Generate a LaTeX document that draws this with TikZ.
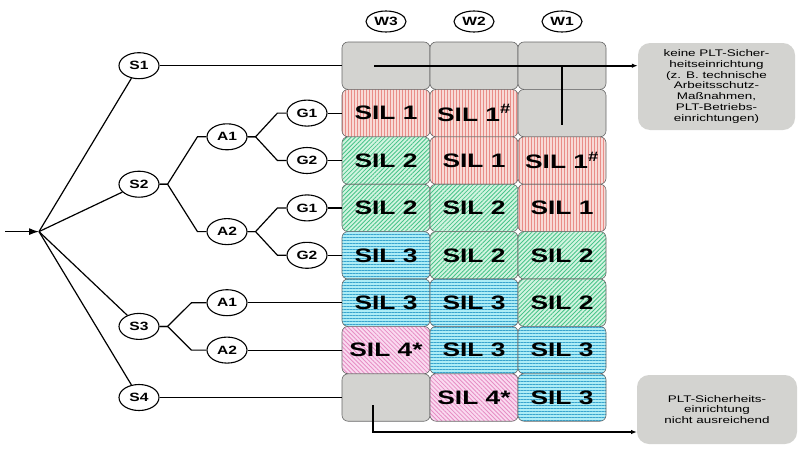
\documentclass[tikz,border=0pt]{standalone}
\usepackage{fontspec}
\setmainfont{Liberation Sans}
\newfontfamily\silfont[FakeStretch=1.35]{Liberation Sans}
\newfontfamily\lblfont[FakeStretch=1.3]{Liberation Sans}
\newfontfamily\boxfont[FakeStretch=1.4]{Liberation Sans}
\usetikzlibrary{shapes.geometric,arrows.meta,patterns.meta}
\definecolor{cellgray}{HTML}{D3D3D0}
\definecolor{sAbg}{HTML}{F8DAD6}
\definecolor{sAfg}{HTML}{E98D88}
\definecolor{sBbg}{HTML}{D2F4E0}
\definecolor{sBfg}{HTML}{48C48A}
\definecolor{sCbg}{HTML}{ADEDF6}
\definecolor{sCfg}{HTML}{38A4CE}
\definecolor{sDbg}{HTML}{FADAF0}
\definecolor{sDfg}{HTML}{E78EC4}
\tikzset{
  cell/.style={draw=black!60, line width=0.6pt, rounded corners=6pt,
    minimum width=88pt, minimum height=47.4pt, inner sep=0pt,
    font=\silfont\bfseries\fontsize{19.5}{20}\selectfont},
  grey/.style={cell, fill=cellgray},
  silA/.style={cell, preaction={fill=sAbg},
    pattern={Lines[angle=90,distance=3pt,line width=0.85pt]}, pattern color=sAfg},
  silB/.style={cell, preaction={fill=sBbg},
    pattern={Lines[angle=45,distance=3pt,line width=0.85pt]}, pattern color=sBfg},
  silC/.style={cell, preaction={fill=sCbg},
    pattern={Lines[angle=0,distance=3pt,line width=0.85pt]}, pattern color=sCfg},
  silD/.style={cell, preaction={fill=sDbg},
    pattern={Lines[angle=-45,distance=3pt,line width=0.85pt]}, pattern color=sDfg},
  tnode/.style={ellipse, draw=black, line width=1.1pt, fill=white,
    minimum width=40pt, minimum height=26pt, inner sep=0pt,
    font=\lblfont\bfseries\fontsize{12}{13}\selectfont},
  wnode/.style={tnode, minimum height=21pt},
  infobox/.style={fill=cellgray, rounded corners=12pt, inner sep=0pt, align=center,
    font=\boxfont\fontsize{9.6}{10.8}\selectfont},
  conn/.style={line width=1.2pt, black},
  bigarrow/.style={line width=1.6pt, black, -{Latex[length=6pt,width=4.5pt]}},
}
\begin{document}
\begin{tikzpicture}[x=1pt, y=-1pt]
\useasboundingbox (0,0) rectangle (800,450);

% column headers
\node[wnode] (W3) at (386,21.5) {W3};
\node[wnode] (W2) at (474,21.5) {W2};
\node[wnode] (W1) at (562,21.5) {W1};

% grid
\node[grey] (c00) at (386,65.7) {};
\node[grey] (c01) at (474,65.7) {};
\node[grey] (c02) at (562,65.7) {};
\node[silA] (c10) at (386,113.1) {SIL 1};
\node[silA] (c11) at (474,113.1) {SIL 1\textsuperscript{\#}};
\node[grey] (c12) at (562,113.1) {};
\node[silB] (c20) at (386,160.5) {SIL 2};
\node[silA] (c21) at (474,160.5) {SIL 1};
\node[silA] (c22) at (562,160.5) {SIL 1\textsuperscript{\#}};
\node[silB] (c30) at (386,207.9) {SIL 2};
\node[silB] (c31) at (474,207.9) {SIL 2};
\node[silA] (c32) at (562,207.9) {SIL 1};
\node[silC] (c40) at (386,255.3) {SIL 3};
\node[silB] (c41) at (474,255.3) {SIL 2};
\node[silB] (c42) at (562,255.3) {SIL 2};
\node[silC] (c50) at (386,302.7) {SIL 3};
\node[silC] (c51) at (474,302.7) {SIL 3};
\node[silB] (c52) at (562,302.7) {SIL 2};
\node[silD] (c60) at (386,350.1) {SIL 4*};
\node[silC] (c61) at (474,350.1) {SIL 3};
\node[silC] (c62) at (562,350.1) {SIL 3};
\node[grey] (c70) at (386,397.5) {};
\node[silD] (c71) at (474,397.5) {SIL 4*};
\node[silC] (c72) at (562,397.5) {SIL 3};

% tree nodes
\coordinate (in) at (5,231.6);
\coordinate (root) at (39,231.6);
\node[tnode] (S1) at (139,65.7) {S1};
\node[tnode] (S2) at (139,184.2) {S2};
\node[tnode] (S3) at (139,326.4) {S3};
\node[tnode] (S4) at (139,397.5) {S4};
\node[tnode] (A1a) at (227,136.8) {A1};
\node[tnode] (A2a) at (227,231.6) {A2};
\node[tnode] (G1a) at (307,113.1) {G1};
\node[tnode] (G2a) at (307,160.5) {G2};
\node[tnode] (G1b) at (307,207.9) {G1};
\node[tnode] (G2b) at (307,255.3) {G2};
\node[tnode] (A1b) at (227,302.7) {A1};
\node[tnode] (A2b) at (227,350.1) {A2};

% info boxes
\node[infobox, minimum width=157pt, minimum height=87pt] (box1) at (716.5,86.5)
  {keine PLT-Sicher-\\heitseinrichtung\\(z. B. technische\\Arbeitsschutz-\\Maßnahmen,\\PLT-Betriebs-\\einrichtungen)};
\node[infobox, minimum width=160pt, minimum height=69pt] (box2) at (717,409.5)
  {PLT-Sicherheits-\\einrichtung\\nicht ausreichend};

% connectors
\draw[conn, -{Latex[length=10pt,width=7pt]}] (in) -- (root);
\draw[conn] (root) -- (S1);
\draw[conn] (root) -- (S2);
\draw[conn] (root) -- (S3);
\draw[conn] (root) -- (S4);

\draw[conn] (S2.east) -- ++(8,0) -- ([xshift=-9pt]A1a.west) -- (A1a.west);
\draw[conn] (S2.east) -- ++(8,0) -- ([xshift=-9pt]A2a.west) -- (A2a.west);
\draw[conn] (A1a.east) -- ++(8,0) -- ([xshift=-9pt]G1a.west) -- (G1a.west);
\draw[conn] (A1a.east) -- ++(8,0) -- ([xshift=-9pt]G2a.west) -- (G2a.west);
\draw[conn] (A2a.east) -- ++(8,0) -- ([xshift=-9pt]G1b.west) -- (G1b.west);
\draw[conn] (A2a.east) -- ++(8,0) -- ([xshift=-9pt]G2b.west) -- (G2b.west);
\draw[conn] (S3.east) -- ++(8,0) -- ([xshift=-15pt]A1b.west) -- (A1b.west);
\draw[conn] (S3.east) -- ++(8,0) -- ([xshift=-15pt]A2b.west) -- (A2b.west);

\draw[conn] (S1) -- (c00.west);
\draw[conn] (G1a) -- (c10.west);
\draw[conn] (G2a) -- (c20.west);
\draw[conn] (G1b) -- (c30.west);
\draw[conn] (G2b) -- (c40.west);
\draw[conn] (A1b) -- (c50.west);
\draw[conn] (A2b) -- (c60.west);
\draw[conn] (S4) -- (c70.west);

% result arrows
\coordinate (s1s) at ([xshift=-12pt]c00.center);
\coordinate (t1) at (562,125);
\draw[bigarrow] (s1s) -- (s1s -| box1.west);
\draw[line width=1.6pt] (c02.center) -- (t1);
\coordinate (s4s) at (373,405);
\coordinate (a4) at (637,432);
\draw[bigarrow] (s4s) |- (a4);
\end{tikzpicture}
\end{document}
